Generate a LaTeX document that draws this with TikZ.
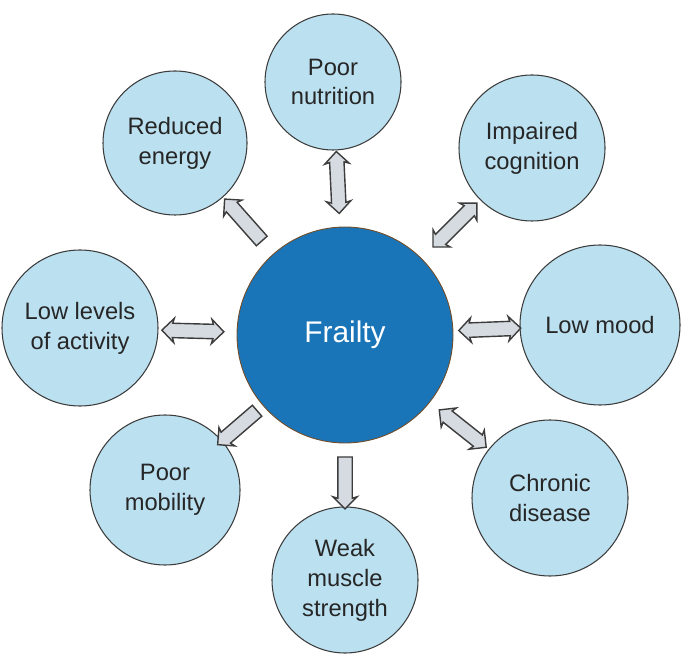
\documentclass[tikz,border=0pt]{standalone}
\usepackage{fontspec}
\setmainfont{Liberation Sans}
\usetikzlibrary{shapes.arrows}
\definecolor{sat}{RGB}{187,224,240}
\definecolor{core}{RGB}{26,117,184}
\definecolor{arr}{RGB}{214,219,225}
\definecolor{edge}{RGB}{60,60,60}
\begin{document}
\begin{tikzpicture}[x=0.02cm,y=-0.02cm,
  sat/.style={circle,draw=edge,line width=0.6pt,fill=sat,align=center,font=\fontsize{13.5}{17}\selectfont,text=black!85,inner sep=0pt},
  arrbase/.style={draw=edge,line width=0.8pt,fill=arr,inner xsep=0pt,inner ysep=0.13cm,sloped,allow upside down},
  dbl/.style={arrbase,double arrow,double arrow head extend=0.1cm,double arrow head indent=0.03cm},
  sgl/.style={arrbase,single arrow,single arrow head extend=0.1cm,single arrow head indent=0.03cm}]
\useasboundingbox (0,0) rectangle (685,671);
\node[circle,draw=brown!60!black,line width=0.5pt,fill=core,minimum size=216*0.02cm,text=white,font=\fontsize{17}{20}\selectfont] (frailty) at (345,335) {Frailty};
\node[sat,minimum size=136*0.02cm] (nut) at (333,82) {Poor\\nutrition};
\node[sat,minimum size=144*0.02cm] (en) at (175,143) {Reduced\\energy};
\node[sat,minimum size=146*0.02cm] (cog) at (532,148) {Impaired\\cognition};
\node[sat,minimum size=156*0.02cm] (act) at (80,328) {Low levels\\of activity};
\node[sat,minimum size=160*0.02cm] (mood) at (600,325) {Low mood};
\node[sat,minimum size=150*0.02cm] (mob) at (165,490) {Poor\\mobility};
\node[sat,minimum size=146*0.02cm] (weak) at (345,580) {Weak\\muscle\\strength};
\node[sat,minimum size=156*0.02cm] (chr) at (550,498) {Chronic\\disease};
\path (frailty) -- (nut) node[pos=.58,dbl,minimum height=62*0.02cm]{};
\path (frailty) -- (en) node[pos=.55,sgl,minimum height=56*0.02cm]{};
\path (frailty) -- (cog) node[pos=.57,dbl,minimum height=62*0.02cm]{};
\path (frailty) -- (mood) node[pos=.55,dbl,minimum height=62*0.02cm]{};
\path (frailty) -- (chr) node[pos=.56,dbl,minimum height=60*0.02cm]{};
\path (frailty) -- (weak) node[pos=.57,sgl,minimum height=52*0.02cm]{};
\path (frailty) -- (mob) node[pos=.56,sgl,minimum height=52*0.02cm]{};
\path (frailty) -- (act) node[pos=.56,dbl,minimum height=62*0.02cm]{};
\end{tikzpicture}
\end{document}
